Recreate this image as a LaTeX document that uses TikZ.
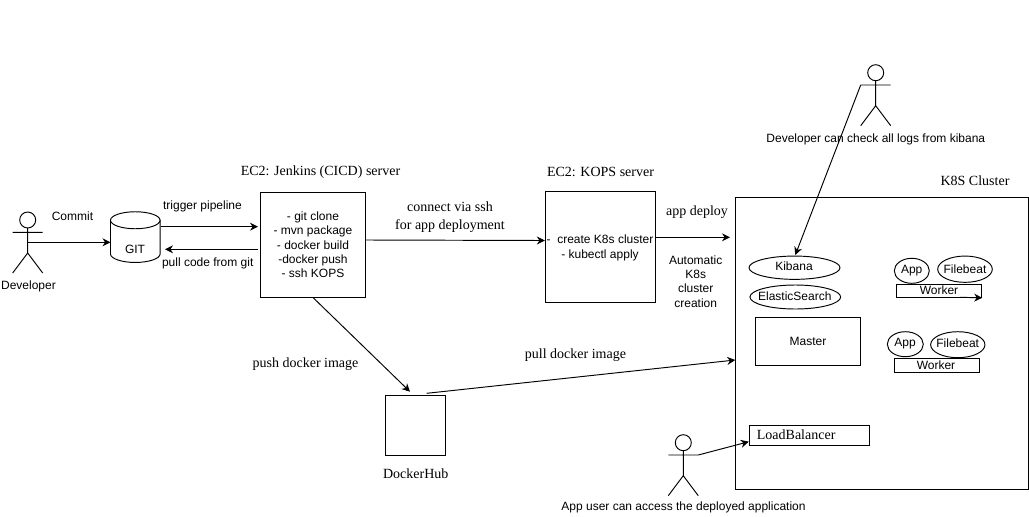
\documentclass[tikz,border=0pt]{standalone}
\usepackage{fontspec}
\setmainfont{Liberation Serif}
\newfontfamily\lsans{Liberation Sans}
\usetikzlibrary{arrows.meta,shapes.geometric}
\tikzset{
  ln/.style={line width=0.95pt,black},
  arr/.style={ln,-{Stealth[length=8pt,width=8pt]}},
  box/.style={draw,ln,rectangle,inner sep=0pt},
  oval/.style={draw,ln,ellipse,inner sep=0pt},
  sans/.style={inner sep=0pt,align=center,font=\lsans\fontsize{12}{14.3}\selectfont},
  serif/.style={inner sep=0pt,align=center,font=\fontsize{14}{18}\selectfont},
}
% stick figure: #1 name, #2 x of body, #3 y of head top
\newcommand{\stick}[3]{%
  \node[draw,ln,circle,minimum size=16pt,inner sep=0pt] (#1) at (#2,#3+8) {};
  \coordinate (#1-neck) at (#2,#3+16);
  \coordinate (#1-larm) at (#2-15,#3+20.3);
  \coordinate (#1-rarm) at (#2+15,#3+20.3);
  \coordinate (#1-hip) at (#2,#3+41);
  \coordinate (#1-lleg) at (#2-15,#3+61);
  \coordinate (#1-rleg) at (#2+15,#3+61);
  \coordinate (#1-mid) at (#2,#3+30.3);
  \draw[ln] (#1-neck) -- (#1-hip) (#1-larm) -- (#1-rarm) (#1-lleg) -- (#1-hip) -- (#1-rleg);
}
\begin{document}
\begin{tikzpicture}[x=1pt,y=-1pt]
\useasboundingbox (0,0) rectangle (1029,517);

% actors
\stick{dev}{27.7}{212}
\stick{logdev}{875.7}{64.7}
\stick{user}{683.3}{434.7}

% git cylinder
\node[rectangle,inner sep=0pt,minimum width=49.6pt,minimum height=50.7pt] (git) at (135.5,237.3) {};
\draw[ln] (git.north west) ++(0,8.5) arc[x radius=24.8,y radius=8.5,start angle=180,end angle=360]
  -- ++(0,33.7) arc[x radius=24.8,y radius=8.5,start angle=0,end angle=180] -- cycle;
\draw[ln] (git.north west) ++(0,8.5) arc[x radius=24.8,y radius=8.5,start angle=180,end angle=0];

% main boxes
\node[box,minimum width=105pt,minimum height=105.3pt] (jenkins) at (313.2,244.7) {};
\node[box,minimum width=110.4pt,minimum height=110.7pt] (kops) at (600.5,247.3) {};
\node[box,minimum width=60.4pt,minimum height=60pt] (hub) at (415.5,425.3) {};
\node[box,minimum width=293pt,minimum height=292.3pt] (k8s) at (882.2,343.8) {};

% inside cluster
\node[oval,minimum width=91pt,minimum height=23.3pt] (kibana) at (794.5,267.7) {};
\node[sans] (kibanat) at (794,266.7) {Kibana};
\node[oval,minimum width=90.7pt,minimum height=24pt] (es) at (795.3,297) {};
\node[sans] (est) at (794.8,296.7) {ElasticSearch};
\node[box,minimum width=105.4pt,minimum height=47.6pt] (master) at (808,341.5) {};
\node[oval,minimum width=35pt,minimum height=25pt] (app1) at (911.8,270.8) {};
\node[sans] (app1t) at (911.7,270.7) {App};
\node[oval,minimum width=54.6pt,minimum height=26.3pt] (fb1) at (965,269.2) {};
\node[sans] (fb1t) at (965,269) {Filebeat};
\node[box,minimum width=85pt,minimum height=13.3pt] (w1) at (939.2,290.7) {};
\node[oval,minimum width=36pt,minimum height=25pt] (app2) at (905.3,344.2) {};
\node[sans] (app2t) at (905,344) {App};
\node[oval,minimum width=54.3pt,minimum height=26pt] (fb2) at (957.8,344.7) {};
\node[sans] (fb2t) at (957.7,343.7) {Filebeat};
\node[box,minimum width=84.6pt,minimum height=14pt] (w2) at (937,365.3) {};
\node[box,minimum width=120.7pt,minimum height=20pt] (lb) at (809.6,435) {};

% box texts
\node[sans] (gitt) at (135,249) {GIT};
\node[sans] (t1) at (313,245) {- git clone\\- mvn package\\- docker build\\-docker push\\- ssh KOPS};
\node[sans,font=\lsans\fontsize{12}{15}\selectfont] (t2) at (600,247.5) {-\ \ create K8s cluster\\- kubectl apply};
\node[sans] (t3) at (808,341) {Master};
\node[sans] (t4) at (939,290) {Worker};
\node[sans] (t5) at (936,365) {Worker};
\node[serif,anchor=west] (t6) at (756.7,434.5) {LoadBalancer};

% labels
\node[sans] (l1) at (72.5,216) {Commit};
\node[sans] (l2) at (28.5,286) {Developer};
\node[sans] (l3) at (202.5,206.7) {trigger pipeline};
\node[sans] (l4) at (207.7,263) {pull code from git};
\node[serif] (l5) at (320.5,172) {EC2: Jenkins (CICD) server};
\node[serif] (l6) at (450,217) {connect via ssh\\for app deployment};
\node[serif] (l7) at (600.5,172) {EC2: KOPS server};
\node[serif] (l8) at (975,181) {K8S Cluster};
\node[serif] (l9) at (697,212) {app deploy};
\node[sans] (l10) at (695.7,281.5) {Automatic\\K8s\\cluster\\creation};
\node[serif] (l11) at (305.5,364.3) {push docker image};
\node[serif] (l12) at (575.5,355) {pull docker image};
\node[serif] (l13) at (415.7,474) {DockerHub};
\node[sans] (l14) at (875.8,139) {Developer can check all logs from kibana};
\node[sans] (l15) at (683.5,507.7) {App user can access the deployed application};

% connectors
\coordinate (gitin) at (git.west |- dev-mid);
\coordinate (gitout) at (git.east |- 0,226.7);
\coordinate (gitback) at (165,249.3);
\coordinate (jback) at (258.3,249.3);
\coordinate (jin) at (258,226.7);
\coordinate (jout) at (jenkins.south -| 313.3,0);
\coordinate (hubin) at (410,391.7);
\coordinate (hubout) at (426.7,393.3);
\coordinate (kin) at (kops.west |- 0,240.5);
\coordinate (deploytip) at (730,237.3);
\coordinate (pulltip) at (k8s.west |- 0,360);
\coordinate (kibanatip) at (795.3,255);
\draw[arr] (dev-mid) -- (gitin);
\draw[arr] (gitout) -- (jin);
\draw[arr] (jback) -- (gitback);
\draw[arr] (jout) -- (hubin);
\draw[arr] (jenkins.east |- 0,240) -- (kin);
\draw[arr] (kops.east |- deploytip) -- (deploytip);
\draw[arr] (hubout) -- (pulltip);
\draw[arr] (logdev-larm) -- (kibanatip);
\draw[arr] (user-rarm) -- (lb.west |- 0,441.7);
\draw[arr] (960,297.3) -- (w1.south east);
\end{tikzpicture}
\end{document}
